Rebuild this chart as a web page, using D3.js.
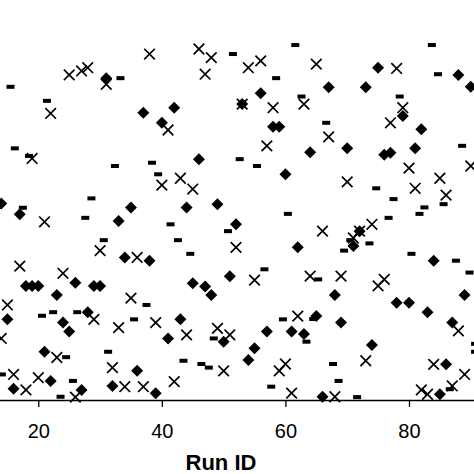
<!DOCTYPE html>
<html>
<head>
<meta charset="utf-8">
<script src="https://cdn.jsdelivr.net/npm/d3@7"></script>
<style>
  body { margin: 0; background: #fff; }
  svg { display: block; font-family: "Liberation Sans", Arial, Helvetica, sans-serif; }
</style>
</head>
<body>
<script>
// run ids shared by the diamond and cross series
const runIds = [14, 15, 16, 17, 18, 19, 20, 21, 22, 23, 24, 25, 26, 27, 28, 29, 30,
  31, 32, 33, 34, 35, 36, 37, 38, 39, 40, 41, 42, 43, 44, 45, 46, 47, 48, 49, 50,
  51, 52, 53, 54, 55, 56, 57, 58, 59, 60, 61, 62, 63, 64, 65, 66, 67, 68, 69, 70,
  71, 72, 73, 74, 75, 76, 77, 78, 79, 80, 81, 82, 83, 84, 85, 86, 87, 88, 89, 90];

const diamondValues = [54.6, 22.4, 3.1, 51.6, 31.7, 31.7, 31.7, 13.4, 5.3, 29.2,
  21.5, 19.0, 32.6, 2.8, 24.4, 31.7, 31.7, 89.4, 3.9, 49.7,
  39.6, 53.5, 8.1, 79.8, 38.7, 1.9, 77.0, 17.1, 81.2, 22.4,
  53.5, 32.4, 66.9, 31.5, 29.2, 54.4, 16.2, 34.4, 48.8, 82.2,
  11.1, 14.4, 85.2, 19.0, 75.9, 75.9, 62.7, 19.0, 42.4, 18.3,
  68.8, 23.3, 0.9, 86.9, 29.2, 21.5, 69.9, 42.8, 46.9, 86.9,
  15.3, 92.3, 68.1, 68.7, 27.0, 78.9, 27.0, 69.9, 75.2, 24.4,
  38.7, 1.6, 9.9, 21.5, 90.3, 29.2, 87.0];

const crossValues = [17.1, 26.4, 7.1, 37.2, 2.8, 67.1, 6.2, 49.5, 79.6, 11.8,
  35.2, 90.3, 0.8, 91.4, 92.3, 22.4, 41.5, 87.7, 9.0, 20.1,
  3.7, 28.3, 39.6, 3.7, 96.1, 21.5, 59.7, 75.0, 5.1, 61.6,
  18.1, 58.6, 97.5, 90.5, 95.1, 19.9, 8.1, 18.1, 42.4, 82.2,
  92.3, 33.3, 94.2, 70.6, 81.2, 8.1, 10.0, 1.9, 23.3, 82.2,
  34.4, 93.3, 46.9, 73.1, 0.9, 34.4, 60.6, 45.0, 46.9, 10.9,
  48.8, 31.7, 33.5, 77.0, 92.1, 81.2, 64.4, 58.8, 2.8, 1.6,
  9.9, 61.6, 56.9, 3.9, 19.2, 7.1, 65.0];

// dash series (drawn a little right of the run id)
const dashRuns = [14.1, 15.5, 16.2, 17.5, 18.5, 20.6, 21.4, 22.4, 23.6, 24.5,
  25.6, 26.3, 27.6, 28.6, 30.6, 31.3, 32.4, 33.3, 35.5, 37.5,
  38.4, 39.4, 41.4, 42.6, 43.5, 44.6, 46.4, 47.6, 48.4, 50.7,
  51.5, 52.6, 55.4, 56.6, 57.7, 58.5, 59.6, 60.4, 61.6, 62.6,
  63.4, 64.5, 65.3, 66.6, 67.7, 68.6, 69.5, 70.5, 71.6, 73.6,
  74.7, 76.7, 77.5, 78.5, 80.4, 81.7, 82.5, 83.7, 84.7, 85.6,
  86.6, 87.6, 88.6, 89.8, 90.7, 90.7];
const dashValues = [7.1, 87.0, 69.9, 53.4, 67.8, 23.4, 83.1, 24.4, 0.9, 11.9,
  5.3, 24.4, 50.6, 56.0, 44.4, 13.4, 65.0, 89.4, 22.4, 26.4,
  65.9, 62.7, 48.8, 44.4, 10.9, 40.6, 10.0, 9.0, 17.1, 46.9,
  96.1, 66.9, 65.0, 36.3, 3.7, 89.4, 22.4, 51.7, 98.6, 84.3,
  16.2, 22.5, 33.5, 77.0, 10.0, 5.3, 41.5, 44.4, 0.8, 43.5,
  58.8, 50.6, 55.8, 84.3, 40.6, 51.7, 53.5, 98.6, 90.5, 54.4,
  3.0, 38.7, 70.6, 35.4, 15.6, 13.4];

const xTicks = [20, 40, 60, 80];
const xTitle = 'Run ID';

const width = 474, height = 474;
const axisY = 400;

const svg = d3.select('body').append('svg')
  .attr('width', width)
  .attr('height', height);

svg.append('rect').attr('width', width).attr('height', height).attr('fill', '#fff');

const x = d3.scaleLinear()
  .domain([0, 100])
  .range([38.3 - 20 * 6.178, 38.3 + 80 * 6.178]);

const y = d3.scaleLinear()
  .domain([0, 100])
  .range([axisY, 40]);

const plot = svg.append('g');

// diamonds
const diamond = d3.symbol(d3.symbolSquare, 72);
plot.append('g')
  .selectAll('path')
  .data(runIds.map((r, i) => [r, diamondValues[i]]))
  .enter().append('path')
  .attr('d', diamond)
  .attr('transform', d => `translate(${x(d[0])},${y(d[1])}) rotate(45)`)
  .attr('fill', '#000');

// crosses
const h = 5.3;
const crossPath = () => {
  const p = d3.path();
  p.moveTo(-h, -h); p.lineTo(h, h);
  p.moveTo(-h, h); p.lineTo(h, -h);
  return p.toString();
};
plot.append('g')
  .selectAll('path')
  .data(runIds.map((r, i) => [r, crossValues[i]]))
  .enter().append('path')
  .attr('d', crossPath)
  .attr('transform', d => `translate(${x(d[0])},${y(d[1])})`)
  .attr('fill', 'none')
  .attr('stroke', '#000')
  .attr('stroke-width', 1.7);

// dashes
plot.append('g')
  .selectAll('rect')
  .data(dashRuns.map((r, i) => [r, dashValues[i]]))
  .enter().append('rect')
  .attr('x', d => x(d[0]) - 4)
  .attr('y', d => y(d[1]) - 2)
  .attr('width', 8)
  .attr('height', 4)
  .attr('fill', '#000');

// x axis
const xAxis = d3.axisBottom(x)
  .tickValues(xTicks)
  .tickSize(7)
  .tickSizeOuter(0)
  .tickPadding(17);

const gx = svg.append('g')
  .attr('transform', `translate(0,${axisY})`)
  .call(xAxis);

gx.select('.domain').attr('stroke', '#000').attr('stroke-width', 1.3);
gx.selectAll('.tick line').attr('stroke', '#000').attr('stroke-width', 1.3);
gx.selectAll('.tick text')
  .attr('fill', '#000')
  .style('font-size', '20px')
  .style('font-family', '"Liberation Sans", Arial, Helvetica, sans-serif');

svg.append('text')
  .attr('x', 221)
  .attr('y', 470)
  .attr('text-anchor', 'middle')
  .style('font-size', '22px')
  .style('font-weight', 'bold')
  .text(xTitle);
</script>
</body>
</html>
